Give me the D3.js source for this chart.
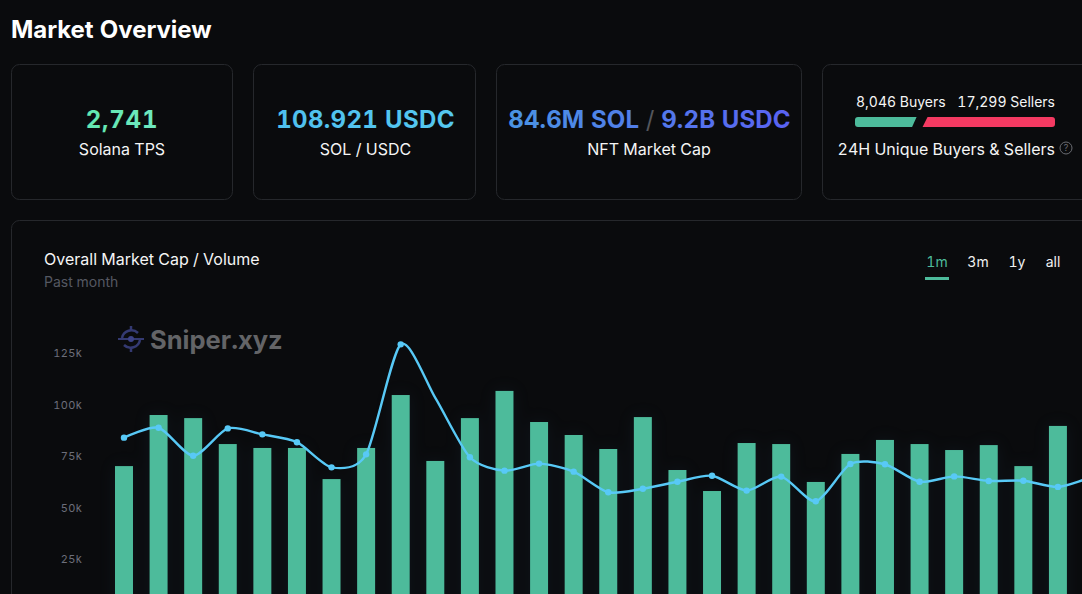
<!DOCTYPE html>
<html>
<head>
<meta charset="utf-8">
<script src="https://cdn.jsdelivr.net/npm/d3@7"></script>
<style>
  html, body { margin: 0; padding: 0; background: #0a0b0d; overflow: hidden; }
  svg { display: block; font-family: Inter, "Noto Sans", sans-serif; font-variant-numeric: tabular-nums; }
</style>
</head>
<body>
<script>
// Values (in thousands)
const days = [1, 2, 3, 4, 5, 6, 7, 8, 9, 10, 11, 12, 13, 14, 15, 16, 17, 18, 19, 20, 21, 22, 23, 24, 25, 26, 27, 28, 29];
const volume = [70.1, 94.9, 93.4, 80.8, 78.9, 78.9, 63.8, 78.9, 104.6, 72.6, 93.4, 106.6, 91.5, 85.2, 78.4, 93.9, 68.2, 58.0, 81.3, 80.8, 62.4, 76.0, 82.8, 80.8, 77.9, 80.3, 70.1, 89.6];
const marketCap = [83.9, 88.7, 75.1, 88.4, 85.5, 81.7, 69.5, 75.8, 129.2, 103.2, 74.4, 67.9, 71.3, 67.4, 57.4, 59.1, 62.5, 65.4, 58.2, 65.0, 53.0, 71.1, 71.0, 62.5, 65.1, 62.9, 63.0, 60.0, 65.0];
// day 10 shows no dot in the reference, the line still bends through it
const daysWithoutDot = [10];
const yTicks = [25, 50, 75, 100, 125];
const ranges = ['1m', '3m', '1y', 'all'];
const buyers = 8046;
const sellers = 17299;

const width = 1082, height = 594;
const border = '#26282c', green = '#4dbb9b', blue = '#58c9f6';

const svg = d3.select('body').append('svg')
    .attr('width', width)
    .attr('height', height);

// Gradients for the big numbers
const defs = svg.append('defs');
function addGradient(id, x1, x2, c1, c2) {
    const g = defs.append('linearGradient')
        .attr('id', id)
        .attr('gradientUnits', 'userSpaceOnUse')
        .attr('x1', x1).attr('x2', x2).attr('y1', 0).attr('y2', 0);
    g.append('stop').attr('offset', 0).attr('stop-color', c1);
    g.append('stop').attr('offset', 1).attr('stop-color', c2);
}
addGradient('tpsGrad', 86, 158, '#62e8b0', '#6fe8c0');
addGradient('solGrad', 277, 454, '#4fc0ee', '#55c8f0');
addGradient('capGrad', 508, 790, '#4a94e2', '#5a62f2');

function card(x, y, w, h) {
    svg.append('rect')
        .attr('x', x).attr('y', y)
        .attr('width', w).attr('height', h)
        .attr('rx', 8)
        .attr('fill', '#0a0b0d')
        .attr('stroke', border);
}

function label(x, y, str, size, fill, weight, anchor) {
    return svg.append('text')
        .attr('x', x).attr('y', y)
        .attr('font-size', size)
        .attr('font-weight', weight || 400)
        .attr('fill', fill)
        .attr('text-anchor', anchor || 'middle')
        .text(str);
}

label(11, 38, 'Market Overview', 24, '#ffffff', 700, 'start').attr('letter-spacing', -0.07);

card(11.5, 64.5, 221, 135);
card(253.5, 64.5, 222, 135);
card(496.5, 64.5, 305, 135);
card(822.5, 64.5, 300, 135);
card(11.5, 220.5, 1100, 420);

label(122, 128, '2,741', 24, 'url(#tpsGrad)', 700).attr('letter-spacing', 0.8);
label(122, 155, 'Solana TPS', 16, '#f5f5f5');

label(365.5, 128, '108.921 USDC', 24, 'url(#solGrad)', 700).attr('letter-spacing', 0.35);
label(365.5, 155, 'SOL / USDC', 16, '#f5f5f5');

const capText = label(649.5, 128, null, 24, 'url(#capGrad)', 700).attr('letter-spacing', 0.15);
capText.append('tspan').text('84.6M SOL ');
capText.append('tspan').attr('fill', '#54565c').attr('font-weight', 400).text('/');
capText.append('tspan').text(' 9.2B USDC');
label(649, 155, 'NFT Market Cap', 16, '#f5f5f5');

// Buyers / sellers card
label(856, 107, d3.format(',')(buyers) + ' Buyers', 14, '#f5f5f5', 400, 'start');
label(1055, 107, d3.format(',')(sellers) + ' Sellers', 14, '#f5f5f5', 400, 'end');

const split = d3.scaleLinear().domain([0, buyers + sellers]).range([855, 1055 - 6]);
const barTop = 117, barBottom = 127;
const gEnd = split(buyers);
svg.append('path')
    .attr('fill', green)
    .attr('d', `M${855 + 3},${barTop} H${gEnd} L${gEnd - 4.5},${barBottom} H${855 + 3} Q855,${barBottom} 855,${barBottom - 3} V${barTop + 3} Q855,${barTop} ${855 + 3},${barTop} Z`);
svg.append('path')
    .attr('fill', '#f43a62')
    .attr('d', `M${gEnd + 11},${barTop} H1052 Q1055,${barTop} 1055,${barTop + 3} V${barBottom - 3} Q1055,${barBottom} 1052,${barBottom} H${gEnd + 6} Z`);

label(1055, 155, '24H Unique Buyers & Sellers', 16, '#f5f5f5', 400, 'end');
svg.append('circle')
    .attr('cx', 1066).attr('cy', 148).attr('r', 6)
    .attr('fill', 'none').attr('stroke', '#6a6c72');
label(1066, 151, '?', 9, '#6a6c72');

// Chart header
label(44, 265, 'Overall Market Cap / Volume', 16, '#f5f5f5', 400, 'start');
label(44, 287, 'Past month', 14, '#555862', 400, 'start');

const rangeX = d3.scaleOrdinal().domain(ranges).range([937, 978, 1017, 1053]);
ranges.forEach((r, i) => {
    label(rangeX(r), 267, r, 14, i === 0 ? green : '#f0f0f0');
});
svg.append('rect')
    .attr('x', 925).attr('y', 277)
    .attr('width', 24).attr('height', 3)
    .attr('fill', green);

// Scales
const x = d3.scaleBand()
    .domain(days)
    .range([106.7, 106.7 + 34.59 * days.length])
    .paddingInner(0.48)
    .paddingOuter(0.24);
const y = d3.scaleLinear()
    .domain([0, 125])
    .range([610.5, 353]);

// Y axis
const yAxis = svg.append('g')
    .attr('transform', 'translate(82,0)')
    .call(d3.axisLeft(y).tickValues(yTicks).tickFormat(d => d + 'k').tickSize(0).tickPadding(0));
yAxis.select('.domain').remove();
yAxis.selectAll('text')
    .attr('fill', '#6c6e7a')
    .attr('font-size', 11)
    .attr('font-family', 'Inter, sans-serif')
    .attr('letter-spacing', 0.3);

// Watermark
const logo = svg.append('g')
    .attr('transform', 'translate(131,339)')
    .attr('fill', 'none')
    .attr('stroke', '#343a72')
    .attr('stroke-width', 2.5);
logo.append('path').attr('d', 'M-9,-1 A9.5,9.5 0 0 1 7,-6');
logo.append('path').attr('d', 'M9,1 A9.5,9.5 0 0 1 -7,6');
logo.append('path').attr('d', 'M-13,0 H13').attr('stroke-width', 2);
logo.append('path').attr('d', 'M0,-13 V-9 M0,9 V13').attr('stroke-width', 2.5);
logo.append('circle').attr('r', 3).attr('fill', '#3d4388').attr('stroke', 'none');
label(150, 349, 'Sniper.xyz', 25.5, '#636467', 700, 'start');

// Bars
svg.append('g')
    .style('filter', 'drop-shadow(0 0 8px rgba(60,110,160,0.10))')
    .selectAll('rect')
    .data(volume)
    .join('rect')
    .attr('x', (d, i) => x(days[i]))
    .attr('y', d => y(d))
    .attr('width', x.bandwidth())
    .attr('height', d => y(0) - y(d))
    .attr('fill', green);

// Market cap line
const capPoints = marketCap.map((d, i) => ({ day: days[i], value: d }));

const line = d3.line()
    .x(d => x(d.day) + x.bandwidth() / 2)
    .y(d => y(d.value))
    .curve(d3.curveCardinal.tension(0.25));

svg.append('path')
    .datum(capPoints)
    .attr('fill', 'none')
    .attr('stroke', blue)
    .attr('stroke-width', 2.4)
    .attr('d', line);

svg.append('g')
    .selectAll('circle')
    .data(capPoints.filter(d => !daysWithoutDot.includes(d.day)))
    .join('circle')
    .attr('cx', d => x(d.day) + x.bandwidth() / 2)
    .attr('cy', d => y(d.value))
    .attr('r', 3.2)
    .attr('fill', blue);
</script>
</body>
</html>
